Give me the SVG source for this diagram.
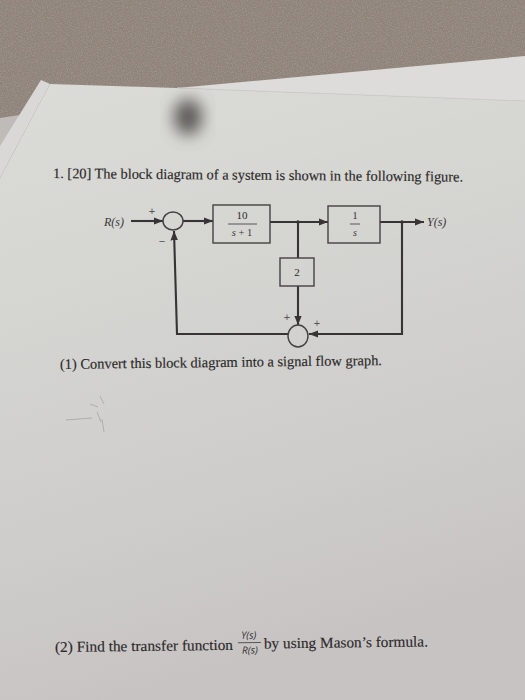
<svg xmlns="http://www.w3.org/2000/svg" width="525" height="700" viewBox="0 0 525 700">
<defs>
<style>
.t{font-family:"Liberation Serif","Times New Roman",serif;fill:#2b2929;stroke:#2b2929;stroke-width:0.15}
.ti{font-family:"Liberation Serif","Times New Roman",serif;font-style:italic;fill:#3a3838}
.box{fill:none;stroke:#444242;stroke-width:1.4}
.sum{fill:none;stroke:#444242;stroke-width:1.4}
.wire{fill:none;stroke:#363434;stroke-width:2.1}
.frac{stroke:#4a4848;stroke-width:0.9}
.sgn{font-family:"Liberation Sans",Arial,sans-serif;font-size:11px;fill:#555}
</style>
<marker id="ah" viewBox="0 0 10 8" refX="10" refY="4" markerWidth="4.5" markerHeight="3.6" orient="auto" markerUnits="strokeWidth">
<path d="M0,0 L10,4 L0,8 Z" fill="#363434"/>
</marker>
<filter id="noise" x="0" y="0" width="100%" height="100%">
<feTurbulence type="fractalNoise" baseFrequency="0.8" numOctaves="2" seed="3"/>
<feColorMatrix type="matrix" values="0 0 0 0 0.35  0 0 0 0 0.31  0 0 0 0 0.28  0 0 0 2.2 -0.8"/>
</filter>
<filter id="blur" x="-50%" y="-50%" width="200%" height="200%">
<feGaussianBlur stdDeviation="8"/>
</filter>
<linearGradient id="paper" x1="0" y1="0" x2="0.25" y2="1">
<stop offset="0" stop-color="#dbdbd7"/>
<stop offset="0.35" stop-color="#d5d5d2"/>
<stop offset="0.75" stop-color="#cdcccb"/>
<stop offset="1" stop-color="#c8c3c3"/>
</linearGradient>
</defs>

<g id="background">
<rect x="0" y="0" width="525" height="700" fill="#8e8279"/>
<rect x="0" y="0" width="525" height="130" filter="url(#noise)" opacity="0.9"/>
<polygon points="0,118 26,114 0,165" fill="#bebbb9"/>
<polygon points="177,88 525,56 525,101" fill="#dddcda"/>
<polygon points="41,80 50,84 0,178 0,146" fill="#d9d8d6"/>
<polygon points="50,84 177,88 525,101 525,700 0,700 0,178" fill="url(#paper)"/>
<line x1="177" y1="88" x2="525" y2="101" stroke="#cfcecc" stroke-width="1"/>
<ellipse cx="188" cy="117" rx="14" ry="18" fill="#5c5957" filter="url(#blur)"/>
<g stroke="#9d9a98" stroke-width="0.8" fill="none" opacity="0.8">
<path d="M100,396 L104,404"/>
<path d="M90,404 L98,407"/>
<path d="M66,420 L92,418"/>
<path d="M97,412 L101,422"/>
<path d="M102,419 L104,432"/>
</g>
</g>

<g id="question">
<text class="t" x="53" y="178" font-size="14.5" textLength="410" lengthAdjust="spacingAndGlyphs" transform="rotate(0.5 53 178)">1.  [20] The block diagram of a system is shown in the following figure.</text>
<text class="t" x="60" y="369" font-size="14.5" textLength="322" lengthAdjust="spacingAndGlyphs" transform="rotate(-0.7 60 369)">(1) Convert this block diagram into a signal flow graph.</text>
<g transform="rotate(-0.7 55 652)">
<text class="t" x="55" y="652" font-size="15" textLength="178" lengthAdjust="spacingAndGlyphs">(2) Find the transfer function</text>
<text x="249" y="641" font-size="10" text-anchor="middle" font-family="'Noto Sans','DejaVu Sans',sans-serif" font-style="italic" fill="#3a3838">Y(s)</text>
<line x1="238" y1="645" x2="261" y2="645" stroke="#3a3838" stroke-width="0.8"/>
<text x="250" y="656" font-size="10" text-anchor="middle" font-family="'Noto Sans','DejaVu Sans',sans-serif" font-style="italic" fill="#3a3838">R(s)</text>
<text class="t" x="264" y="651" font-size="15" textLength="164" lengthAdjust="spacingAndGlyphs">by using Mason’s formula.</text>
</g>
</g>

<g id="connectors">
<line class="wire" x1="131" y1="221" x2="163" y2="221" marker-end="url(#ah)"/>
<line class="wire" x1="183" y1="221" x2="213" y2="221" marker-end="url(#ah)"/>
<line class="wire" x1="270" y1="222" x2="328" y2="222" marker-end="url(#ah)"/>
<line class="wire" x1="380" y1="222" x2="424" y2="222" marker-end="url(#ah)"/>
<line class="wire" x1="298" y1="222" x2="298" y2="258"/>
<line class="wire" x1="298" y1="286" x2="298" y2="325" marker-end="url(#ah)"/>
<polyline class="wire" points="402,222 402,334 309,334" marker-end="url(#ah)"/>
<polyline class="wire" points="288,334 177,334 174,231" marker-end="url(#ah)"/>
<circle cx="298" cy="222" r="1.8" fill="#363434"/>
<circle cx="402" cy="222" r="1.8" fill="#363434"/>
</g>

<g id="input-label">
<text class="ti" x="104" y="226" font-size="12">R(s)</text>
</g>

<g id="sum1">
<ellipse class="sum" cx="173" cy="221" rx="10" ry="9"/>
<text class="sgn" x="152" y="215" text-anchor="middle">+</text>
<text class="sgn" x="162" y="245" text-anchor="middle">−</text>
</g>

<g id="block1">
<rect class="box" x="213" y="205" width="57" height="38"/>
<text class="t" x="242" y="219" font-size="11" text-anchor="middle" style="stroke-width:0">10</text>
<line class="frac" x1="228" y1="224" x2="257" y2="224"/>
<text class="ti" x="242" y="236" font-size="10.5" text-anchor="middle"><tspan>s</tspan><tspan font-style="normal"> + 1</tspan></text>
</g>

<g id="block2">
<rect class="box" x="328" y="206" width="52" height="37"/>
<text class="t" x="355" y="219" font-size="10" text-anchor="middle" style="stroke-width:0">1</text>
<line class="frac" x1="350" y1="224" x2="360" y2="224"/>
<text class="ti" x="355" y="236" font-size="10" text-anchor="middle">s</text>
</g>

<g id="block3">
<rect class="box" x="280" y="258" width="34" height="28"/>
<text class="t" x="297" y="276" font-size="11" text-anchor="middle" style="stroke-width:0">2</text>
</g>

<g id="sum2">
<ellipse class="sum" cx="298" cy="336" rx="10" ry="11"/>
<text class="sgn" x="287" y="321" text-anchor="middle">+</text>
<text class="sgn" x="317" y="327" text-anchor="middle">+</text>
</g>

<g id="output-label">
<text class="ti" x="427" y="226" font-size="12">Y(s)</text>
</g>
</svg>
